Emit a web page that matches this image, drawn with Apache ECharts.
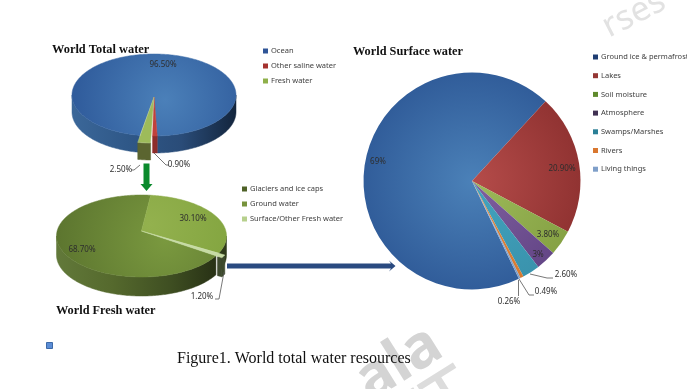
<!DOCTYPE html>
<html lang="en" style="height: 100%">
<head>
  <meta charset="utf-8">
</head>
<body style="height: 100%; margin: 0; background: #fff">
  <div id="container" style="height: 100%"></div>

  <script type="text/javascript" src="https://cdn.jsdelivr.net/npm/echarts@6/dist/echarts.min.js"></script>
  <script type="text/javascript">
    // values
    var totalNames = ['Ocean', 'Other saline water', 'Fresh water'];
    var totalValues = [96.5, 0.9, 2.5];
    var totalLabels = ['96.50%', '0.90%', '2.50%'];

    var freshNames = ['Glaciers and ice caps', 'Ground water', 'Surface/Other Fresh water'];
    var freshValues = [68.7, 30.1, 1.2];
    var freshLabels = ['68.70%', '30.10%', '1.20%'];

    var surfaceNames = ['Ground ice & permafrost', 'Lakes', 'Soil moisture', 'Atmosphere', 'Swamps/Marshes', 'Rivers', 'Living things'];
    var surfaceValues = [69, 20.9, 3.8, 3, 2.6, 0.49, 0.26];
    var surfaceLabels = ['69%', '20.90%', '3.80%', '3%', '2.60%', '0.49%', '0.26%'];

    var labelFont = '8px "Noto Sans"';
    var labelColor = '#2e2e2e';
    var legendText = { fontFamily: 'Noto Sans', fontSize: 7.5, color: '#404040' };

    function globalRadial(cx, cy, r, inner, outer) {
      return { type: 'radial', x: cx, y: cy, r: r, global: true,
        colorStops: [{ offset: 0, color: inner }, { offset: 1, color: outer }] };
    }
    function globalLinear(x0, x1, stops) {
      return { type: 'linear', x: x0, y: 0, x2: x1, y2: 0, global: true,
        colorStops: stops.map(function (c, i) { return { offset: i / (stops.length - 1), color: c }; }) };
    }

    // tilted pie: every slice is its own custom series so the legend can list it
    function tiltedPie(cfg) {
      var total = 0;
      cfg.values.forEach(function (v) { total += v; });
      return cfg.values.map(function (value, i) {
        var before = 0;
        for (var k = 0; k < i; k++) before += cfg.values[k];
        var s = cfg.slices[i];
        return {
          type: 'custom',
          name: cfg.names[i],
          coordinateSystem: 'none',
          silent: true,
          z: 2 + i,
          itemStyle: { color: s.legend },
          data: [[value]],
          renderItem: function (params, api) {
            var a = cfg.start + before / total * 360;
            var b = a + api.value(0) / total * 360;
            var ox = s.shift ? s.shift[0] : 0;
            var oy = s.shift ? s.shift[1] : 0;
            function rim(t, f) {
              var r = t * Math.PI / 180;
              f = f === undefined ? 1 : f;
              return [cfg.cx + ox + cfg.rx * f * Math.sin(r), cfg.cy + oy - cfg.ry * f * Math.cos(r)];
            }
            var children = [];

            // outer wall, front half only
            [[90, 270], [450, 630]].forEach(function (range) {
              var from = Math.max(a, range[0]);
              var to = Math.min(b, range[1]);
              if (from >= to) return;
              var upper = [], lower = [];
              for (var t = from; t < to; t += 1) upper.push(rim(t));
              upper.push(rim(to));
              upper.forEach(function (p) { lower.unshift([p[0], p[1] + cfg.depth]); });
              children.push({ type: 'polygon', shape: { points: upper.concat(lower) },
                style: { fill: s.wall, stroke: s.wall, lineWidth: 0.5 } });
            });

            // cut face of a pulled out slice
            if (s.cut) {
              var p0 = rim(b), p1 = rim(b, 1 - s.cut);
              children.push({ type: 'polygon',
                shape: { points: [p0, p1, [p1[0], p1[1] + cfg.depth], [p0[0], p0[1] + cfg.depth]] },
                style: { fill: s.wall, stroke: s.wall, lineWidth: 0.5 } });
            }

            // top face
            var pts = [cfg.apex];
            for (var t = a; t < b; t += 1) pts.push(rim(t));
            pts.push(rim(b));
            children.push({ type: 'polygon', shape: { points: pts },
              style: { fill: s.top, stroke: s.edge || s.top, lineWidth: 0.5 } });

            if (s.leader) {
              children.push({ type: 'polyline', shape: { points: s.leader },
                style: { fill: null, stroke: '#555', lineWidth: 0.8 } });
            }
            children.push({ type: 'text', style: { text: cfg.labels[i], x: s.label[0], y: s.label[1],
              align: 'center', verticalAlign: 'middle', fill: labelColor, font: labelFont } });
            return { type: 'group', children: children };
          }
        };
      });
    }

    var totalSeries = tiltedPie({
      names: totalNames, values: totalValues, labels: totalLabels,
      cx: 154, cy: 95, rx: 82, ry: 41, depth: 17, apex: [154, 97], start: 190,
      slices: [
        { legend: '#2f5597', top: globalRadial(165, 100, 90, '#4b80b9', '#305c9c'),
          wall: globalLinear(72, 236, ['#3b6799', '#2f5888', '#2a4c78', '#13253d']), label: [163, 65] },
        { legend: '#a5322f', top: '#c0413c', wall: '#8e2d2b', label: [179, 165],
          leader: [[154, 153], [166, 165], [169, 165]] },
        { legend: '#8fb04a', top: '#9dbb5a', wall: '#5b6530', edge: '#b5c98a', shift: [-2, 7], label: [121, 170],
          leader: [[140, 165], [134, 170], [131, 170]] }
      ]
    });

    var freshSeries = tiltedPie({
      names: freshNames, values: freshValues, labels: freshLabels,
      cx: 141.5, cy: 236, rx: 85, ry: 41, depth: 19, apex: [141.5, 231], start: 118.9,
      slices: [
        { legend: '#4f6228', top: globalRadial(165, 240, 110, '#7a993f', '#5c752f'),
          wall: globalLinear(56, 226, ['#62793a', '#55692d', '#3f4f22', '#232b12']), label: [82, 250] },
        { legend: '#77933c', top: globalRadial(150, 225, 90, '#93b14e', '#82a43f'),
          wall: '#2f3a1a', label: [193, 219] },
        { legend: '#b7d08d', top: '#c6dba4', wall: '#3e4a2e', shift: [6, 2], cut: 0.06, label: [202, 297],
          leader: [[224, 272], [219, 299], [215, 299]] }
      ]
    });

    var surfaceCenter = [472, 181];
    var surfaceRadius = 108.5;
    // inner/outer colours of the slices, legend colours are darker
    var surfaceInner = ['#4b81b8', '#b54c4a', '#9dba5a', '#80609f', '#42a4bf', '#e08a42', '#8fb0d8'];
    var surfaceOuter = ['#315d9a', '#913332', '#86a244', '#644687', '#3a93ad', '#d67a32', '#7f9fc9'];
    var surfaceLegend = ['#1f3d73', '#953735', '#5f8a2c', '#403152', '#2a7f96', '#d9772f', '#7f9fc9'];
    var surfaceLabelPos = [[378, 162], [562, 169], [548, 235], [538, 255], [566, 275], [546, 292], [509, 302]];
    var surfaceLeaders = [null, null, null, null,
      [[530, 274], [547, 278], [553, 278]],
      [[519, 279], [529, 295], [534, 295]],
      [[518.5, 280], [518.5, 296]]];

    var surfaceData = surfaceValues.map(function (v, i) {
      return {
        name: surfaceNames[i],
        value: v,
        labelLine: { show: !!surfaceLeaders[i], lineStyle: { color: '#555', width: 0.8 } },
        itemStyle: { color: globalRadial(surfaceCenter[0], surfaceCenter[1], surfaceRadius, surfaceInner[i], surfaceOuter[i]) },
        label: { formatter: surfaceLabels[i] }
      };
    });

    var surfaceSeries = {
      type: 'pie',
      name: 'World Surface water',
      center: surfaceCenter,
      radius: surfaceRadius,
      startAngle: -64.4,
      silent: true,
      z: 2,
      label: { show: true, position: 'outside', fontFamily: 'Noto Sans', fontSize: 8, color: labelColor },
      labelLayout: function (p) {
        var i = p.dataIndex;
        var out = { x: surfaceLabelPos[i][0], y: surfaceLabelPos[i][1], align: 'center', verticalAlign: 'middle' };
        if (surfaceLeaders[i]) out.labelLinePoints = surfaceLeaders[i];
        return out;
      },
      data: surfaceData
    };

    function titleAt(text, left, top, size, weight) {
      return { text: text, left: left, top: top, padding: 0,
        textStyle: { fontFamily: 'Liberation Serif', fontSize: size, fontWeight: weight, color: '#111' } };
    }

    function legendAt(names, left, top, gap) {
      return { data: names, orient: 'vertical', left: left, top: top, padding: 0,
        icon: 'rect', itemWidth: 5, itemHeight: 5, itemGap: gap, selectedMode: false, textStyle: Object.assign({ padding: [0, 0, 0, -2] }, legendText) };
    }

    function watermark(text, x, y, size, angle, weight, fill) {
      return { type: 'text', x: x, y: y, rotation: angle * Math.PI / 180, z: 0, silent: true,
        style: { text: text, fill: fill, font: weight + ' ' + size + 'px "Noto Sans"' } };
    }

    var surfaceLegendItems = surfaceNames.map(function (name, i) {
      return { name: name, itemStyle: { color: surfaceLegend[i] } };
    });

    var option = {
      animation: false,
      backgroundColor: '#fff',
      title: [
        titleAt('World Total water', 52, 44, 12.4, 'bold'),
        titleAt('World Fresh water', 56, 305, 12.3, 'bold'),
        titleAt('World Surface water', 353, 46, 12.3, 'bold'),
        titleAt('Figure1. World total water resources', 177, 351, 16, 'normal')
      ],
      legend: [
        legendAt(totalNames, 263, 47, 7),
        legendAt(freshNames, 242, 185, 7),
        legendAt(surfaceLegendItems, 593, 53, 10.7)
      ],
      graphic: [
        watermark('rses', 597, 14, 34, 27, 'normal', '#e2e2e2'),
        watermark('ala', 345, 362, 60, 32, 'bold', '#d4d4d4'),
        watermark('IT', 390, 395, 80, 32, 'normal', '#dcdcdc'),
        // arrows between the pies
        { type: 'polygon', z: 1, silent: true,
          shape: { points: [[143.5, 163.5], [149.5, 163.5], [149.5, 184], [152.5, 184], [146.5, 191], [140.5, 184], [143.5, 184]] },
          style: { fill: '#0a8a2c' } },
        { type: 'polygon', z: 1, silent: true,
          shape: { points: [[227, 263.5], [391, 263.5], [389, 260.5], [395.5, 266], [389, 271.5], [391, 268.5], [227, 268.5]] },
          style: { fill: '#2a4a80' } },
        { type: 'rect', z: 1, silent: true,
          shape: { x: 46.5, y: 342.5, width: 6, height: 6 },
          style: { fill: '#5b8dd6', stroke: '#3d6aa8', lineWidth: 1 } }
      ],
      series: totalSeries.concat(freshSeries, [surfaceSeries])
    };

    var myChart = echarts.init(document.getElementById('container'), null, { renderer: 'canvas' });
    myChart.setOption(option);
    window.addEventListener('resize', myChart.resize);
  </script>
</body>
</html>
